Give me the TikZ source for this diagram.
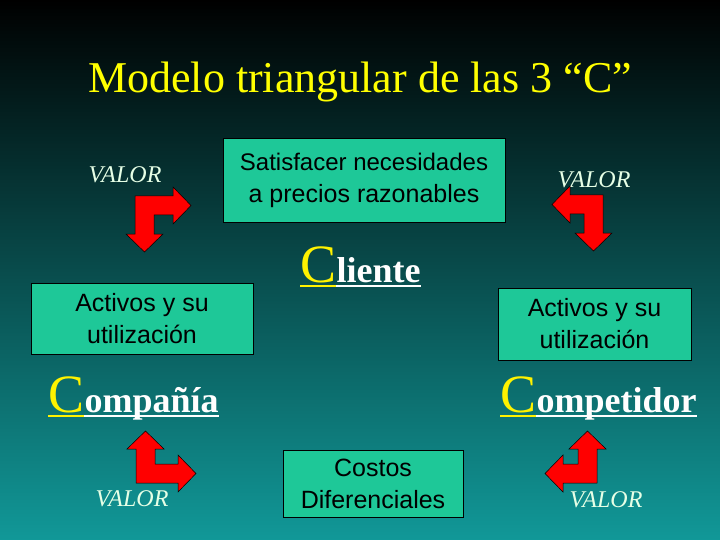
\documentclass[tikz,border=0pt]{standalone}
\usepackage{fontspec}
\setmainfont{Liberation Serif}
\newfontfamily\arialf{Liberation Sans}
\definecolor{boxfill}{RGB}{30,200,152}
\definecolor{bgmid}{RGB}{10,96,96}
\definecolor{bgbot}{RGB}{17,152,152}
\definecolor{valorc}{RGB}{230,255,230}
\definecolor{titley}{RGB}{255,255,0}
\tikzset{
  greenbox/.style={draw=black, line width=0.8pt, fill=boxfill, align=center, inner sep=0pt,
    font=\arialf\fontsize{25}{32}\selectfont, text=black},
  valortext/.style={font=\itshape\fontsize{24}{28}\selectfont, text=valorc, anchor=base, inner sep=0pt},
  bigc/.style={font=\fontsize{54}{60}\selectfont, text=yellow, anchor=base west, inner sep=0pt},
  restc/.style={font=\bfseries\fontsize{36}{40}\selectfont, text=white, anchor=base west, inner sep=0pt},
  uline/.style={line width=2.6pt},
  arrowfill/.style={fill=red, draw=black, line width=0.5pt, line join=miter},
  pics/bentarr/.style 2 args={code={
    \draw[arrowfill] (0,0) -- (#1,0) -- (#1,-9) -- (#1+18,9.5) -- (#1,28) -- (#1,19)
      -- (19,19) -- (19,#2) -- (28,#2) -- (9.5,#2+18) -- (-9,#2) -- (0,#2) -- cycle;
  }}
}
\begin{document}
\begin{tikzpicture}[x=1pt,y=-1pt]
\useasboundingbox (0,0) rectangle (720,540);
\shade[top color=black, middle color=bgmid, bottom color=bgbot] (0,0) rectangle (720,540);

% title
\node[anchor=base, inner sep=0pt, text=titley, font=\fontsize{44}{50}\selectfont] (title) at (360,93)
  {Modelo triangular de las 3 “C”};

% boxes
\node[greenbox, minimum width=282, minimum height=84] (need) at (364,180)
  {\fontsize{24}{32}\selectfont Satisfacer necesidades\\a precios razonables};
\node[greenbox, minimum width=222, minimum height=71] (assetl) at (142,318.5)
  {Activos y su\\utilización};
\node[greenbox, minimum width=193, minimum height=72] (assetr) at (594.5,324)
  {Activos y su\\utilización};
\node[greenbox, minimum width=180, minimum height=67] (cost) at (373,483.5)
  {Costos\\Diferenciales};

% Cliente
\node[bigc] (cliC) at (300,282) {C};
\node[restc] (cliR) at (cliC.base east) {liente};
\draw[uline, yellow] ([yshift=-4pt]cliC.base west) -- ([yshift=-4pt]cliC.base east);
\draw[uline, white] ([yshift=-4pt]cliR.base west) -- ([yshift=-4pt]cliR.base east);

% Compañía
\node[bigc] (comC) at (48,412) {C};
\node[restc] (comR) at (comC.base east) {ompañía};
\draw[uline, yellow] ([yshift=-4pt]comC.base west) -- ([yshift=-4pt]comC.base east);
\draw[uline, white] ([yshift=-4pt]comR.base west) -- ([yshift=-4pt]comR.base east);

% Competidor
\node[bigc] (cmpC) at (500,412) {C};
\node[restc] (cmpR) at (cmpC.base east) {ompetidor};
\draw[uline, yellow] ([yshift=-4pt]cmpC.base west) -- ([yshift=-4pt]cmpC.base east);
\draw[uline, white] ([yshift=-4pt]cmpR.base west) -- ([yshift=-4pt]cmpR.base east);

% VALOR labels
\node[valortext] (v1) at (125,183) {VALOR};
\node[valortext] (v2) at (594,188) {VALOR};
\node[valortext] (v3) at (132,506) {VALOR};
\node[valortext] (v4) at (606,507) {VALOR};

% bent arrows
\pic at (135,196) {bentarr={38}{38}};
\pic[xscale=-1] at (603,195) {bentarr={33}{38}};
\pic[yscale=-1] at (136,483) {bentarr={42}{34}};
\pic[xscale=-1,yscale=-1] at (597,483) {bentarr={34}{34}};
\end{tikzpicture}
\end{document}
